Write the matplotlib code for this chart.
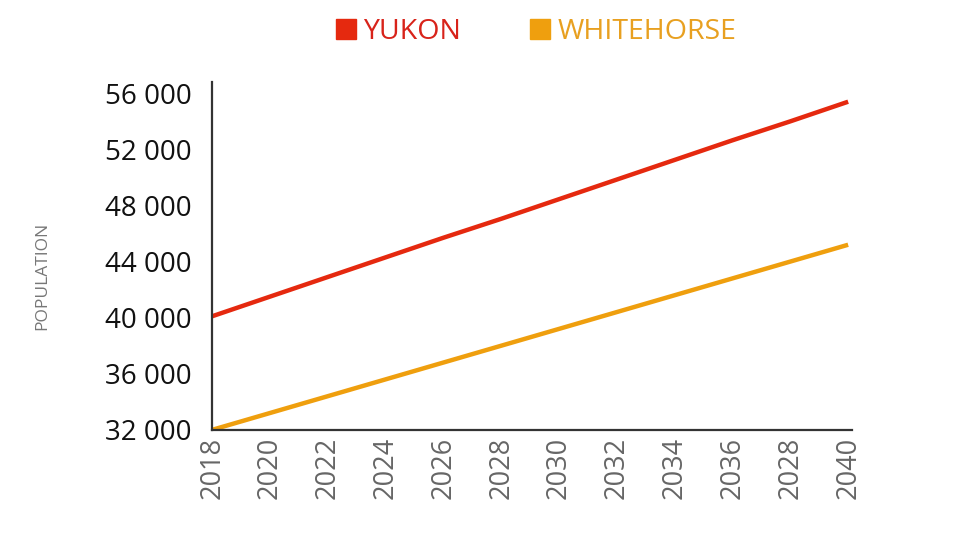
import matplotlib
matplotlib.use("Agg")
import matplotlib.pyplot as plt
from matplotlib.lines import Line2D

# data
years = [2018, 2020, 2022, 2024, 2026, 2028, 2030, 2032, 2034, 2036, 2038, 2040]
year_labels = ["2018", "2020", "2022", "2024", "2026", "2028", "2030",
               "2032", "2034", "2036", "2028", "2040"]
yukon = [40100, 41500, 42900, 44300, 45700, 47050, 48450, 49850, 51250,
         52650, 54000, 55400]
whitehorse = [32000, 33200, 34400, 35600, 36800, 38000, 39200, 40400,
              41600, 42800, 44000, 45200]
y_ticks = [32000, 36000, 40000, 44000, 48000, 52000, 56000]

RED = "#e5290f"
ORANGE = "#ef9f0e"

plt.rcParams["font.family"] = ["Open Sans", "DejaVu Sans"]

fig = plt.figure(figsize=(9.6, 5.4), dpi=100)
ax = fig.add_axes([0.221, 0.204, 0.667, 0.644])

ax.plot(years, yukon, color=RED, lw=3.2, solid_capstyle="butt")
ax.plot(years, whitehorse, color=ORANGE, lw=3.2, solid_capstyle="butt")

ax.set_xlim(2018, 2040.15)
ax.set_ylim(32000, 56800)
ax.set_xticks(years)
ax.set_xticklabels(year_labels, rotation=90, color="#666666", fontsize=19.5)
ax.set_yticks(y_ticks)
ax.set_yticklabels([f"{v:,}".replace(",", " ") for v in y_ticks],
                   color="#111111", fontsize=20)
ax.tick_params(axis="both", length=0)
ax.tick_params(axis="y", pad=15)
ax.tick_params(axis="x", pad=5)

for s in ["top", "right"]:
    ax.spines[s].set_visible(False)
for s in ["left", "bottom"]:
    ax.spines[s].set_color("#333333")
    ax.spines[s].set_linewidth(1.6)

fig.text(42 / 960, 1 - 276 / 540, "POPULATION", rotation=90,
         ha="center", va="center", color="#777777", fontsize=12.5)

handles = [Line2D([], [], ls="none", marker="s", markersize=15, color=RED),
           Line2D([], [], ls="none", marker="s", markersize=15, color=ORANGE)]
leg = fig.legend(handles, ["YUKON", "WHITEHORSE"], loc="center",
                 bbox_to_anchor=(0.556, 0.94), ncol=2, frameon=False,
                 fontsize=20.5, handletextpad=0.1, columnspacing=2.3,
                 handlelength=1.0)
for txt, c in zip(leg.get_texts(), ["#d8231a", "#e8a020"]):
    txt.set_color(c)

fig.savefig("out.png", dpi=100)
